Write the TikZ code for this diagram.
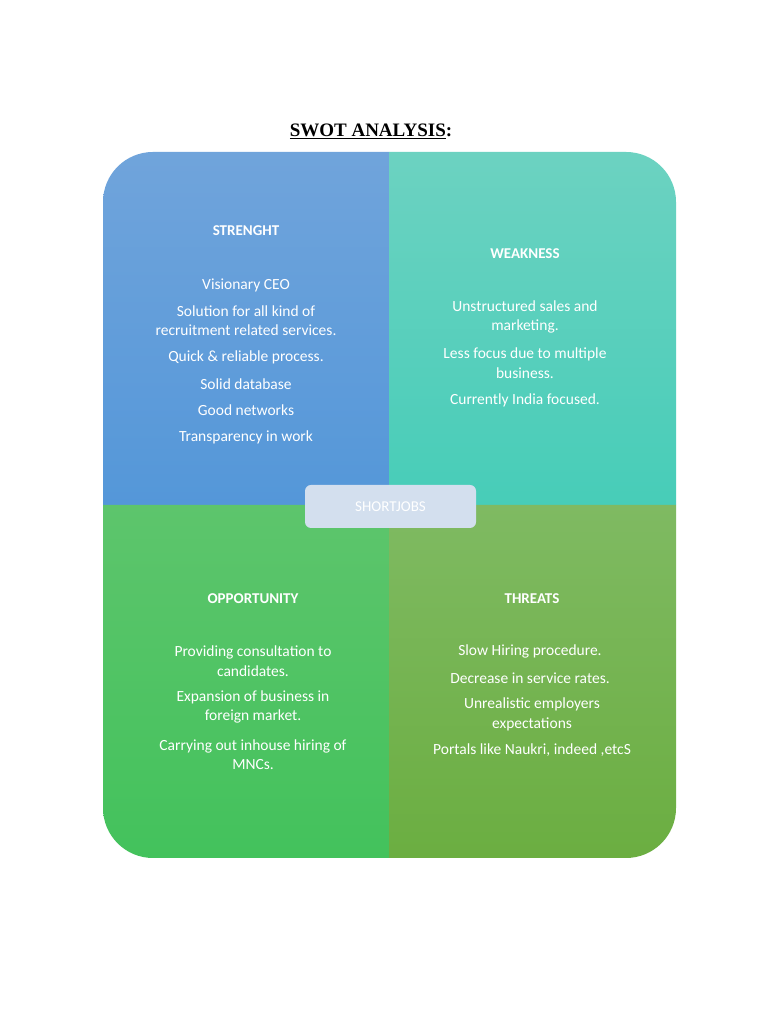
\documentclass[tikz,border=0pt]{standalone}
\usepackage{fontspec}
\setmainfont{Carlito}
\newfontfamily\titlefont{Liberation Serif}
\definecolor{tlA}{HTML}{70A4DB}\definecolor{tlB}{HTML}{5497D9}
\definecolor{trA}{HTML}{6CD2C1}\definecolor{trB}{HTML}{47CDB8}
\definecolor{blA}{HTML}{5DC56C}\definecolor{blB}{HTML}{43C25C}
\definecolor{brA}{HTML}{7FBA62}\definecolor{brB}{HTML}{6BAE41}
\definecolor{boxc}{HTML}{D3DFEE}
\begin{document}
\begin{tikzpicture}[x=1pt,y=1pt,
  hd/.style={text=white,font=\fontsize{15}{19}\selectfont\bfseries},
  it/.style={text=white,font=\fontsize{15.5}{19.5}\selectfont,align=center}]
\useasboundingbox (0,0) rectangle (768,1024);
\fill[white] (0,0) rectangle (768,1024);
\shade[top color=tlA,bottom color=tlB] (103,519) -- (103,822) arc(180:90:50) -- (389,872) -- (389,519) -- cycle;
\shade[top color=trA,bottom color=trB] (389,519) -- (389,872) -- (626,872) arc(90:0:50) -- (676,519) -- cycle;
\shade[top color=blA,bottom color=blB] (103,519) -- (103,216) arc(180:270:50) -- (389,166) -- (389,519) -- cycle;
\shade[top color=brA,bottom color=brB] (389,519) -- (389,166) -- (626,166) arc(270:360:50) -- (676,519) -- cycle;
\node[font=\titlefont\fontsize{19}{22}\selectfont\bfseries] (title) at (371,893) {\underline{SWOT ANALYSIS}:};
\node[fill=boxc,rounded corners=6,minimum width=171,minimum height=43,text=white,font=\fontsize{15}{18}\selectfont] (center) at (390.5,517.5) {SHORTJOBS};
% Strength
\node[hd] (s) at (246,793) {STRENGHT};
\node[it] (s1) at (246,739) {Visionary CEO};
\node[it] (s2) at (246,703.5) {Solution for all kind of\\recruitment related services.};
\node[it] (s3) at (246,667) {Quick \& reliable process.};
\node[it] (s4) at (246,640) {Solid database};
\node[it] (s5) at (246,614) {Good networks};
\node[it] (s6) at (246,587) {Transparency in work};
% Weakness
\node[hd] (w) at (525,770) {WEAKNESS};
\node[it] (w1) at (525,707) {Unstructured sales and\\marketing.};
\node[it] (w2) at (525,661) {Less focus due to multiple\\business.};
\node[it] (w3) at (525,624) {Currently India focused.};
% Opportunity
\node[hd] (o) at (253,425) {OPPORTUNITY};
\node[it] (o1) at (253,363) {Providing consultation to\\candidates.};
\node[it] (o2) at (253,317) {Expansion of business in\\foreign market.};
\node[it] (o3) at (253,269.5) {Carrying out inhouse hiring of\\MNCs.};
% Threats
\node[hd] (t) at (532,425) {THREATS};
\node[it] (t1) at (530,373) {Slow Hiring procedure.};
\node[it] (t2) at (530,346) {Decrease in service rates.};
\node[it] (t3) at (532,309.5) {Unrealistic employers\\expectations};
\node[it] (t4) at (532,274) {Portals like Naukri, indeed ,etcS};
\end{tikzpicture}
\end{document}
